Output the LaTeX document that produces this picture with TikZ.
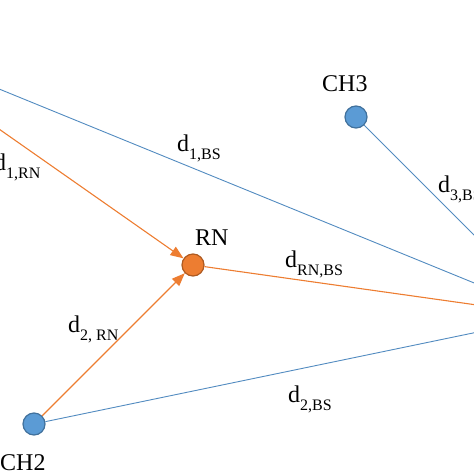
\documentclass[tikz,border=0pt]{standalone}
\usepackage{fontspec}
\setmainfont{Liberation Serif}
\usetikzlibrary{arrows.meta}
\definecolor{chblue}{HTML}{5B9BD5}
\definecolor{chedge}{HTML}{41719C}
\definecolor{rnorange}{HTML}{ED7D31}
\definecolor{rnedge}{HTML}{AE5A21}
\newcommand{\dist}[1]{d\raisebox{-0.36em}{\fontsize{16}{16}\selectfont #1}}
\begin{document}
\begin{tikzpicture}[x=1pt, y=-1pt,
	ch/.style = {draw=chedge, fill=chblue, circle, line width=1.2pt, minimum size=22pt, inner sep=0pt},
	relay/.style = {draw=rnedge, fill=rnorange, circle, line width=1.2pt, minimum size=22pt, inner sep=0pt},
	direct/.style = {draw=chblue!90!black, line width=0.9pt},
	hop/.style = {draw=rnorange, line width=1.1pt},
	hoparrow/.style = {hop, -{Triangle[length=13pt, width=10pt]}},
	lbl/.style = {anchor=base west, inner sep=0pt, font=\fontsize{24}{28}\selectfont}]
	\useasboundingbox (0,0) rectangle (474,474);
	\clip (0,0) rectangle (474,474);
	\coordinate (CH1) at (-138,33);
	\coordinate (BS) at (555,316);
	\node[ch] (CH2) at (34,424) {};
	\node[ch] (CH3) at (356,117) {};
	\node[relay] (RN) at (193,265) {};
	\draw[direct] (CH1) -- (BS);
	\draw[direct] (CH2) -- (BS);
	\draw[direct] (CH3) -- (BS);
	\draw[hop] (RN) -- (BS);
	\draw[hoparrow] (CH1) -- (RN);
	\draw[hoparrow] (CH2) -- (RN);
	\node[lbl] (l1bs) at (177,151) {\dist{1,BS}};
	\node[lbl] (l1rn) at (-6,170) {\dist{1,RN}};
	\node[lbl] (lrn) at (195,245) {RN};
	\node[lbl] (lrnbs) at (285,267) {\dist{RN,BS}};
	\node[lbl] (lch3) at (322,91) {CH3};
	\node[lbl] (l3bs) at (438,192) {\dist{3,BS}};
	\node[lbl] (l2rn) at (68,332) {\dist{2, RN}};
	\node[lbl] (l2bs) at (288,402) {\dist{2,BS}};
	\node[lbl] (lch2) at (0,470) {CH2};
\end{tikzpicture}
\end{document}
